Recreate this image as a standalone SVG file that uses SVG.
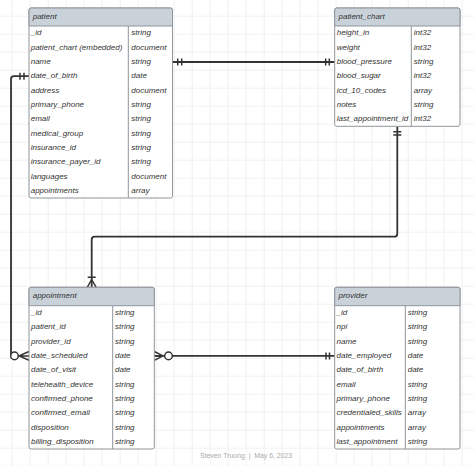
<svg xmlns="http://www.w3.org/2000/svg" width="474" height="466" viewBox="0 0 474 466">
<style>
.t{font-family:"Liberation Sans",Arial,sans-serif;font-style:italic;font-size:8px;fill:#333}
.box{fill:#fff;stroke:#8f959b;stroke-width:1}
.hdr{fill:#c9d1d9;stroke:#8f959b;stroke-width:1}
.div{stroke:#8f959b;stroke-width:1}
.ln{fill:none;stroke:#333;stroke-width:1.8}
.mk{fill:none;stroke:#333;stroke-width:1.5}
.ci{fill:#fff;stroke:#333;stroke-width:1.5}
.ft{font-family:"Liberation Sans",Arial,sans-serif;font-size:6.9px;fill:#aaa;white-space:pre}
</style>
<defs>
<pattern id="grid" x="11.7" y="15.7" width="18" height="18" patternUnits="userSpaceOnUse">
<path d="M0 0H18M0 0V18" fill="none" stroke="#e4e4e4" stroke-width="1"/>
</pattern>
</defs>
<rect width="474" height="466" fill="#fff"/>
<rect width="474" height="466" fill="url(#grid)"/>

<g id="connectors">
<path class="ln" d="M172.5 62H334.7"/>
<path class="mk" d="M177.7 58.5V65.5M181.7 58.5V65.5M325.7 58.5V65.5M329.3 58.5V65.5"/>
<path class="ln" d="M29 76.2H14Q11 76.2 11 79.2V355.9"/>
<path class="mk" d="M20 72.7V79.7M24 72.7V79.7"/>
<path class="mk" d="M19 355.9H29M19 355.9L29 351.5M19 355.9L29 360.3"/>
<circle class="ci" cx="14.5" cy="355.9" r="3.8"/>
<path class="ln" d="M154.3 355.9H334.7"/>
<path class="mk" d="M154.3 355.9H163M163 355.9L154.3 351.5M163 355.9L154.3 360.3"/>
<circle class="ci" cx="168.5" cy="355.9" r="3.8"/>
<path class="mk" d="M326 352.4V359.4M329.5 352.4V359.4"/>
<path class="ln" d="M397.3 126.3V233.7Q397.3 236.7 394.3 236.7H94.7Q91.7 236.7 91.7 239.7V287.3"/>
<path class="mk" d="M393.3 131.7H401.3M393.3 135H401.3"/>
<path class="mk" d="M87.7 277.3H95.7M91.7 279.5L87.2 287.3M91.7 279.5L96.2 287.3"/>
</g>

<g id="patient">
<rect class="box" x="29" y="8" width="143.5" height="190" rx="2"/>
<path class="hdr" d="M29 26V10Q29 8 31 8H170.5Q172.5 8 172.5 10V26Z"/>
<line class="div" x1="128.3" y1="26" x2="128.3" y2="198"/>
<text class="t" x="32.7" y="18.7">patient</text>
<text class="t" x="30.7" y="35.2">_id</text><text class="t" x="131.3" y="35.2">string</text>
<text class="t" x="30.7" y="49.5">patient_chart (embedded)</text><text class="t" x="131.3" y="49.5">document</text>
<text class="t" x="30.7" y="63.9">name</text><text class="t" x="131.3" y="63.9">string</text>
<text class="t" x="30.7" y="78.2">date_of_birth</text><text class="t" x="131.3" y="78.2">date</text>
<text class="t" x="30.7" y="92.5">address</text><text class="t" x="131.3" y="92.5">document</text>
<text class="t" x="30.7" y="106.9">primary_phone</text><text class="t" x="131.3" y="106.9">string</text>
<text class="t" x="30.7" y="121.2">email</text><text class="t" x="131.3" y="121.2">string</text>
<text class="t" x="30.7" y="135.5">medical_group</text><text class="t" x="131.3" y="135.5">string</text>
<text class="t" x="30.7" y="149.9">insurance_id</text><text class="t" x="131.3" y="149.9">string</text>
<text class="t" x="30.7" y="164.2">insurance_payer_id</text><text class="t" x="131.3" y="164.2">string</text>
<text class="t" x="30.7" y="178.5">languages</text><text class="t" x="131.3" y="178.5">document</text>
<text class="t" x="30.7" y="192.8">appointments</text><text class="t" x="131.3" y="192.8">array</text>
</g>

<g id="patient_chart">
<rect class="box" x="334.7" y="8" width="125.3" height="118.3" rx="2"/>
<path class="hdr" d="M334.7 26V10Q334.7 8 336.7 8H458Q460 8 460 10V26Z"/>
<line class="div" x1="411.3" y1="26" x2="411.3" y2="126.3"/>
<text class="t" x="338.5" y="18.7">patient_chart</text>
<text class="t" x="336.7" y="35.2">height_in</text><text class="t" x="413.8" y="35.2">int32</text>
<text class="t" x="336.7" y="49.5">weight</text><text class="t" x="413.8" y="49.5">int32</text>
<text class="t" x="336.7" y="63.9">blood_pressure</text><text class="t" x="413.8" y="63.9">string</text>
<text class="t" x="336.7" y="78.2">blood_sugar</text><text class="t" x="413.8" y="78.2">int32</text>
<text class="t" x="336.7" y="92.5">icd_10_codes</text><text class="t" x="413.8" y="92.5">array</text>
<text class="t" x="336.7" y="106.9">notes</text><text class="t" x="413.8" y="106.9">string</text>
<text class="t" x="336.7" y="121.2">last_appointment_id</text><text class="t" x="413.8" y="121.2">int32</text>
</g>

<g id="appointment">
<rect class="box" x="29" y="287.3" width="125.3" height="161.7" rx="2"/>
<path class="hdr" d="M29 305.7V289.3Q29 287.3 31 287.3H152.3Q154.3 287.3 154.3 289.3V305.7Z"/>
<line class="div" x1="112.7" y1="305.7" x2="112.7" y2="449"/>
<text class="t" x="32.7" y="298">appointment</text>
<text class="t" x="31" y="314.9">_id</text><text class="t" x="115" y="314.9">string</text>
<text class="t" x="31" y="329.2">patient_id</text><text class="t" x="115" y="329.2">string</text>
<text class="t" x="31" y="343.5">provider_id</text><text class="t" x="115" y="343.5">string</text>
<text class="t" x="31" y="357.9">date_scheduled</text><text class="t" x="115" y="357.9">date</text>
<text class="t" x="31" y="372.2">date_of_visit</text><text class="t" x="115" y="372.2">date</text>
<text class="t" x="31" y="386.5">telehealth_device</text><text class="t" x="115" y="386.5">string</text>
<text class="t" x="31" y="400.9">confirmed_phone</text><text class="t" x="115" y="400.9">string</text>
<text class="t" x="31" y="415.2">confirmed_email</text><text class="t" x="115" y="415.2">string</text>
<text class="t" x="31" y="429.5">disposition</text><text class="t" x="115" y="429.5">string</text>
<text class="t" x="31" y="443.9">billing_disposition</text><text class="t" x="115" y="443.9">string</text>
</g>

<g id="provider">
<rect class="box" x="334.7" y="287.3" width="125.3" height="161.7" rx="2"/>
<path class="hdr" d="M334.7 305.7V289.3Q334.7 287.3 336.7 287.3H458Q460 287.3 460 289.3V305.7Z"/>
<line class="div" x1="405.3" y1="305.7" x2="405.3" y2="449"/>
<text class="t" x="338.5" y="298">provider</text>
<text class="t" x="336.5" y="314.9">_id</text><text class="t" x="407.7" y="314.9">string</text>
<text class="t" x="336.5" y="329.2">npi</text><text class="t" x="407.7" y="329.2">string</text>
<text class="t" x="336.5" y="343.5">name</text><text class="t" x="407.7" y="343.5">string</text>
<text class="t" x="336.5" y="357.9">date_employed</text><text class="t" x="407.7" y="357.9">date</text>
<text class="t" x="336.5" y="372.2">date_of_birth</text><text class="t" x="407.7" y="372.2">date</text>
<text class="t" x="336.5" y="386.5">email</text><text class="t" x="407.7" y="386.5">string</text>
<text class="t" x="336.5" y="400.9">primary_phone</text><text class="t" x="407.7" y="400.9">string</text>
<text class="t" x="336.5" y="415.2">credentialed_skills</text><text class="t" x="407.7" y="415.2">array</text>
<text class="t" x="336.5" y="429.5">appointments</text><text class="t" x="407.7" y="429.5">array</text>
<text class="t" x="336.5" y="443.9">last_appointment</text><text class="t" x="407.7" y="443.9">string</text>
</g>

<text class="ft" x="200" y="458" xml:space="preserve">Steven Truong  |  May 6, 2023</text>
</svg>
